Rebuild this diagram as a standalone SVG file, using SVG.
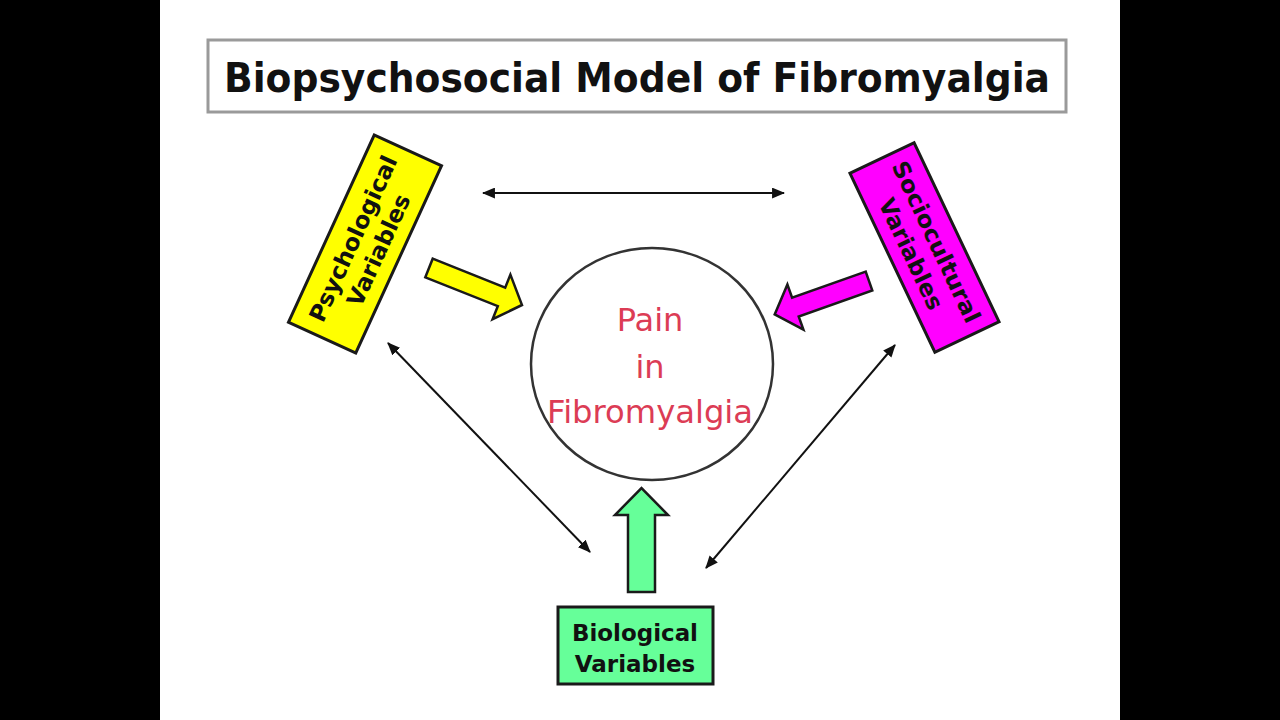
<svg xmlns="http://www.w3.org/2000/svg" width="1280" height="720" viewBox="0 0 1280 720">
<style>
.bold{font-family:"DejaVu Sans","Verdana","Liberation Sans",sans-serif;font-weight:bold;fill:#111}
.lbl{font-size:23px;text-anchor:middle}
.pain{font-family:"DejaVu Sans","Verdana","Liberation Sans",sans-serif;font-size:32px;fill:#DC3C55;text-anchor:middle}
.box{stroke:#1a1a1a;stroke-width:3}
.conn{stroke:#111;stroke-width:2;fill:none;marker-start:url(#ah);marker-end:url(#ah)}
.blk{stroke:#1a1a1a;stroke-width:2.5;stroke-linejoin:miter}
</style>
<defs>
<marker id="ah" viewBox="0 0 12 10" refX="11" refY="5" markerWidth="13" markerHeight="11" markerUnits="userSpaceOnUse" orient="auto-start-reverse">
<path d="M0,0 L12,5 L0,10 Z" fill="#111"/>
</marker>
</defs>
<rect x="0" y="0" width="1280" height="720" fill="#000"/>
<rect x="160" y="0" width="960" height="720" fill="#fff"/>

<g id="title">
<rect x="208" y="40" width="858" height="72" fill="#fff" stroke="#9a9a9a" stroke-width="3"/>
<text class="bold" x="637" y="92" font-size="40" text-anchor="middle" textLength="826" lengthAdjust="spacingAndGlyphs">Biopsychosocial Model of Fibromyalgia</text>
</g>

<g id="connectors">
<line class="conn" x1="483" y1="193" x2="784" y2="193"/>
<line class="conn" x1="388" y1="343" x2="590" y2="552"/>
<line class="conn" x1="895" y1="345" x2="706" y2="568"/>
</g>

<g id="psychological">
<g transform="translate(365,244) rotate(-65.4)">
<rect class="box" x="-103" y="-37" width="206" height="74" fill="#FFFF00"/>
<text class="bold lbl" x="0" y="-5" textLength="180" lengthAdjust="spacingAndGlyphs">Psychological</text>
<text class="bold lbl" x="0" y="23">Variables</text>
</g>
</g>

<g id="sociocultural">
<g transform="translate(924.5,247.5) rotate(64.6)">
<rect class="box" x="-99" y="-35.5" width="198" height="71" fill="#FF00FF"/>
<text class="bold lbl" x="0" y="-5" textLength="176" lengthAdjust="spacingAndGlyphs" fill="#1a1030">Sociocultural</text>
<text class="bold lbl" x="0" y="23" fill="#1a1030">Variables</text>
</g>
</g>

<g id="biological">
<rect class="box" x="558" y="607" width="155" height="77" fill="#66FF99"/>
<text class="bold lbl" x="635" y="641" textLength="126" lengthAdjust="spacingAndGlyphs">Biological</text>
<text class="bold lbl" x="635" y="672">Variables</text>
</g>

<g id="pain">
<ellipse cx="652" cy="364" rx="121" ry="116" fill="#fff" stroke="#333" stroke-width="2.5"/>
<text class="pain" x="650" y="331">Pain</text>
<text class="pain" x="650" y="378">in</text>
<text class="pain" x="650" y="423" textLength="206" lengthAdjust="spacingAndGlyphs">Fibromyalgia</text>
</g>

<g id="arrow-psych">
<polygon class="blk" fill="#FFFF00" points="432.7,258.7 505.2,287.6 510.4,274.6 522,305 492.6,319.2 497.8,306.2 425.3,277.3"/>
</g>
<g id="arrow-socio">
<polygon class="blk" fill="#FF00FF" points="865.7,271.6 792.1,297.7 787.4,284.5 774.7,314.4 803.4,329.7 798.7,316.5 872.3,290.4"/>
</g>
<g id="arrow-bio">
<polygon class="blk" fill="#66FF99" points="628,592 628,515 615,515 641.5,488 668,515 655,515 655,592"/>
</g>
</svg>
